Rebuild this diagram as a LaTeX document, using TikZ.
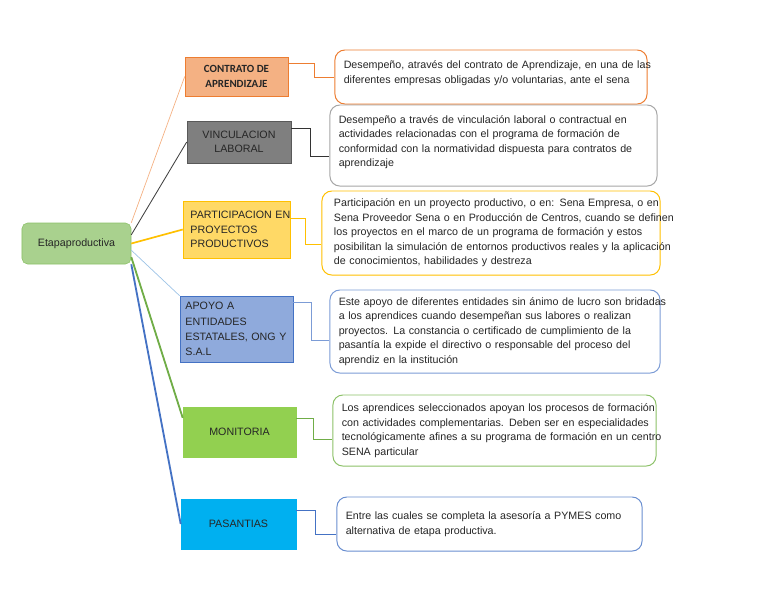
\documentclass[tikz,border=0pt]{standalone}
\usepackage{fontspec}
\setmainfont{Liberation Sans}
\newfontfamily\calibri{Carlito}

\definecolor{rootfill}{HTML}{A9D18E}
\definecolor{rootline}{HTML}{8CC168}
\definecolor{contratofill}{HTML}{F4B183}
\definecolor{contratoline}{HTML}{ED7D31}
\definecolor{vinculofill}{HTML}{7F7F7F}
\definecolor{vinculoline}{HTML}{595959}
\definecolor{proyfill}{HTML}{FFD966}
\definecolor{proyline}{HTML}{FFC000}
\definecolor{apoyofill}{HTML}{8FAADC}
\definecolor{apoyoline}{HTML}{4472C4}
\definecolor{apoyolight}{HTML}{9DC3E6}
\definecolor{monifill}{HTML}{92D050}
\definecolor{moniline}{HTML}{70AD47}
\definecolor{pasafill}{HTML}{00B0F0}
\definecolor{pasaline}{HTML}{4472C4}
\definecolor{textdark}{HTML}{262626}

\begin{document}
\begin{tikzpicture}[x=0.025cm, y=-0.025cm, font=\fontsize{7.6}{10.3}\selectfont, text=textdark]
\useasboundingbox (0,0) rectangle (768,594);
% Central node
\node[draw=rootline, fill=rootfill, rounded corners=4pt, minimum width=2.725cm, minimum height=1.025cm] (etapa) at (76.5,243.5) {Etapaproductiva};

% Modalidades
\node[draw=contratoline, fill=contratofill, minimum width=2.575cm, minimum height=0.975cm, align=center, font=\calibri\bfseries\fontsize{7.8}{10.5}\selectfont] (contrato) at (236.5,76.5) {CONTRATO DE\\APRENDIZAJE};
\node[draw=vinculoline, fill=vinculofill, minimum width=2.6cm, minimum height=1.05cm, align=center] (vinculo) at (239,142) {VINCULACION\\LABORAL};
\node[draw=proyline, fill=proyfill, minimum width=2.675cm, minimum height=1.425cm, align=left, text width=2.3cm, inner xsep=0.18cm] (proyectos) at (236.5,229.5) {\mbox{PARTICIPACION EN}\\PROYECTOS\\PRODUCTIVOS};
\node[draw=apoyoline, fill=apoyofill, minimum width=2.825cm, minimum height=1.65cm, align=left, text width=2.55cm, inner xsep=0.14cm, font=\fontsize{7.6}{10.8}\selectfont] (apoyo) at (236.5,329) {APOYO A\\ENTIDADES\\\mbox{ESTATALES, ONG Y}\\S.A.L};
\node[draw=monifill, fill=monifill, minimum width=2.825cm, minimum height=1.25cm] (monitoria) at (239.5,432) {MONITORIA};
\node[draw=pasafill, fill=pasafill, minimum width=2.875cm, minimum height=1.25cm] (pasantias) at (238.5,524) {PASANTIAS};

% Descripciones
\node[draw=contratoline, fill=white, rounded corners=7pt, line width=0.7pt, align=left, minimum width=7.8cm, minimum height=1.35cm, text width=7.36cm, inner xsep=0.22cm, text depth=0.62cm] (desc1) at (491,77) {\mbox{Desempeño, através del contrato de Aprendizaje, en una de las}\\diferentes empresas obligadas y/o voluntarias, ante el sena};
\node[draw=black!35, fill=white, rounded corners=7pt, line width=0.7pt, align=left, minimum width=8.175cm, minimum height=2.025cm, text width=7.735cm, inner xsep=0.22cm, text depth=1.3cm] (desc2) at (493.5,145.5) {\mbox{Desempeño a través de vinculación laboral o contractual en}\\\mbox{actividades relacionadas con el programa de formación de}\\\mbox{conformidad con la normatividad dispuesta para contratos de}\\aprendizaje};
\node[draw=proyline, fill=white, rounded corners=7pt, line width=0.7pt, align=left, minimum width=8.45cm, minimum height=2.1cm, text width=7.85cm, inner xsep=0.3cm] (desc3) at (491,233) {\mbox{Participación en un proyecto productivo, o en: Sena Empresa, o en}\\\mbox{Sena Proveedor Sena o en Producción de Centros, cuando se definen}\\\mbox{los proyectos en el marco de un programa de formación y estos}\\\mbox{posibilitan la simulación de entornos productivos reales y la aplicación}\\de conocimientos, habilidades y destreza};
\node[draw=apoyoline!70, fill=white, rounded corners=7pt, line width=0.7pt, align=left, minimum width=8.25cm, minimum height=2.075cm, text width=7.81cm, inner xsep=0.22cm] (desc4) at (495,331.5) {\mbox{Este apoyo de diferentes entidades sin ánimo de lucro son bridadas}\\\mbox{a los aprendices cuando desempeñan sus labores o realizan}\\\mbox{proyectos. La constancia o certificado de cumplimiento de la}\\\mbox{pasantía la expide el directivo o responsable del proceso del}\\aprendiz en la institución};
\node[draw=rootline, fill=white, rounded corners=7pt, line width=0.7pt, align=left, minimum width=8.075cm, minimum height=1.775cm, text width=7.635cm, inner xsep=0.22cm] (desc5) at (494.5,430.5) {\mbox{Los aprendices seleccionados apoyan los procesos de formación}\\\mbox{con actividades complementarias. Deben ser en especialidades}\\\mbox{tecnológicamente afines a su programa de formación en un centro}\\SENA particular};
\node[draw=apoyoline!80, fill=white, rounded corners=7pt, line width=0.7pt, align=left, minimum width=7.625cm, minimum height=1.35cm, text width=7.185cm, inner xsep=0.22cm] (desc6) at (489.5,524) {Entre las cuales se completa la asesoría a PYMES como\\alternativa de etapa productiva.};

% Ramas
\draw[contratofill, line width=0.5pt] (etapa.north east) -- (contrato.west);
\draw[black!75, line width=0.6pt] (etapa.9) -- (vinculo.west);
\draw[proyline, line width=1.2pt] (etapa.east) -- (proyectos.west);
\draw[apoyolight, line width=0.5pt] (etapa.-7) -- (apoyo.north west);
\draw[moniline, line width=1.3pt] (etapa.-14) -- (monitoria.166);
\draw[pasaline, line width=1.3pt] (etapa.south east) -- (pasantias.west);

% Enlaces a descripciones
\draw[contratoline, line width=0.7pt] (contrato.14) -- ++(26,0) |- (desc1.west);
\draw[black!80, line width=0.7pt] (vinculo.14) -- ++(19,0) |- (desc2.184);
\draw[proyline, line width=0.7pt] (proyectos.12) -- ++(15,0) |- (desc3.184);
\draw[apoyoline!70, line width=0.7pt] (apoyo.25) -- ++(18,0) |- (desc4.183);
\draw[moniline, line width=0.7pt] (monitoria.13) -- ++(17,0) |- (desc5.183);
\draw[pasaline, line width=0.7pt] (pasantias.13) -- ++(19,0) |- (desc6.184);
\end{tikzpicture}
\end{document}
